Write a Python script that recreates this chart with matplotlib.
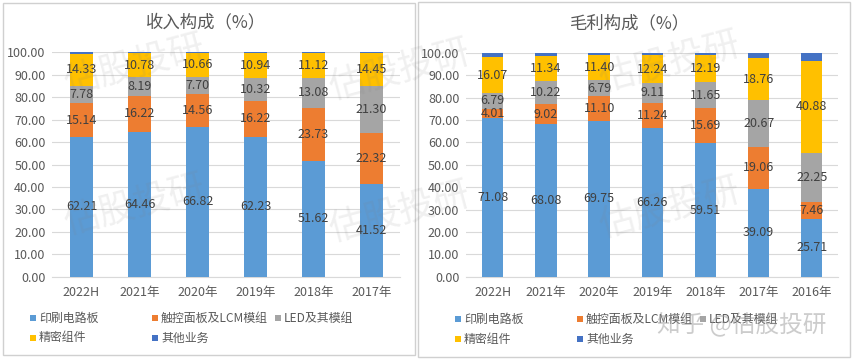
import matplotlib
matplotlib.use("Agg")
import matplotlib.pyplot as plt
from matplotlib.patches import Rectangle
import numpy as np

plt.rcParams['font.family'] = ['Noto Sans CJK SC', 'DejaVu Sans']

# ---------------- data ----------------
series_names = ['印刷电路板', '触控面板及LCM模组', 'LED及其模组', '精密组件', '其他业务']
colors = ['#5B9BD5', '#ED7D31', '#A5A5A5', '#FFC000', '#4472C4']

rev_title = '收入构成（%）'
rev_cats = ['2022H', '2021年', '2020年', '2019年', '2018年', '2017年']
rev_pcb = [62.21, 64.46, 66.82, 62.23, 51.62, 41.52]
rev_touch = [15.14, 16.22, 14.56, 16.22, 23.73, 22.32]
rev_led = [7.78, 8.19, 7.70, 10.32, 13.08, 21.30]
rev_prec = [14.33, 10.78, 10.66, 10.94, 11.12, 14.45]
rev_other = [0.54, 0.35, 0.26, 0.29, 0.45, 0.41]

gp_title = '毛利构成（%）'
gp_cats = ['2022H', '2021年', '2020年', '2019年', '2018年', '2017年', '2016年']
gp_pcb = [71.08, 68.08, 69.75, 66.26, 59.51, 39.09, 25.71]
gp_touch = [4.01, 9.02, 11.10, 11.24, 15.69, 19.06, 7.46]
gp_led = [6.79, 10.22, 6.79, 9.11, 11.65, 20.67, 22.25]
gp_prec = [16.07, 11.34, 11.40, 12.24, 12.19, 18.76, 40.88]
gp_other = [2.05, 1.34, 0.96, 1.15, 0.96, 2.42, 3.70]

y_ticks = [0, 10, 20, 30, 40, 50, 60, 70, 80, 90, 100]

W, H = 854, 360
fig = plt.figure(figsize=(W / 100, H / 100), dpi=100)
fig.patch.set_facecolor('white')

def fx(px):
    return px / W

def fy(py):
    return 1 - py / H

# panel borders
for (x0, y0, x1, y1) in [(3, 3, 415, 355), (418, 2, 850, 357)]:
    fig.patches.append(Rectangle((fx(x0), fy(y1)), fx(x1 - x0), (y1 - y0) / H,
                                 transform=fig.transFigure, fill=False,
                                 edgecolor='#d0d0d0', linewidth=1.0, zorder=0))

grid_c = '#d9d9d9'
txt_c = '#595959'
lab_c = '#404040'

def draw_panel(rect, cats, data, title, title_xy):
    ax = fig.add_axes(rect)
    x = np.arange(len(cats))
    bottom = np.zeros(len(cats))
    for i, (vals, col) in enumerate(zip(data, colors)):
        vals = np.array(vals, dtype=float)
        bars = ax.bar(x, vals, width=0.4, bottom=bottom, color=col, zorder=3,
                      linewidth=0)
        if i < 4:
            ax.bar_label(bars, labels=[f'{v:.2f}' for v in vals],
                         label_type='center', fontsize=9, color=lab_c, zorder=5)
        bottom += vals
    ax.set_xlim(-0.5, len(cats) - 0.5)
    ax.set_ylim(0, 100)
    ax.set_yticks(y_ticks)
    ax.set_yticklabels([f'{v:.2f}' for v in y_ticks])
    ax.set_xticks(x)
    ax.set_xticklabels(cats)
    ax.tick_params(axis='both', length=0, labelsize=9, colors=txt_c)
    ax.tick_params(axis='y', pad=5)
    ax.tick_params(axis='x', pad=7)
    ax.yaxis.grid(True, color=grid_c, linewidth=0.8, zorder=0)
    ax.set_axisbelow(True)
    for s in ['top', 'right', 'left']:
        ax.spines[s].set_visible(False)
    ax.spines['bottom'].set_color(grid_c)
    ax.spines['bottom'].set_linewidth(0.8)
    ax.set_facecolor('none')
    fig.text(fx(title_xy[0]), fy(title_xy[1]), title, ha='center', va='center',
             fontsize=12.5, color=txt_c)
    return ax

# left panel
draw_panel([fx(52.5), fy(276.7), fx(400.5 - 52.5), (276.7 - 52.3) / H],
           rev_cats, [rev_pcb, rev_touch, rev_led, rev_prec, rev_other],
           rev_title, (206, 22))
# right panel
draw_panel([fx(466.2), fy(276.7), fx(838.4 - 466.2), (276.7 - 52.8) / H],
           gp_cats, [gp_pcb, gp_touch, gp_led, gp_prec, gp_other],
           gp_title, (630, 23))

# legends (manual, Excel-style)
def legend(positions):
    for (px, py), name, col in zip(positions, series_names, colors):
        fig.patches.append(Rectangle((fx(px), fy(py + 3)), fx(6), 6 / H,
                                     transform=fig.transFigure, facecolor=col,
                                     edgecolor='none', zorder=2))
        fig.text(fx(px + 9), fy(py), name, ha='left', va='center',
                 fontsize=8.6, color=txt_c)

legend([(30, 318), (152, 318), (275, 318), (30, 338), (152, 338)])
legend([(455, 319), (577, 319), (700, 319), (455, 339), (577, 339)])

# watermarks
wm_c = '#808080'
for (px, py) in [(135, 65), (400, 70), (670, 62), (135, 205), (400, 212),
                 (670, 208)]:
    fig.text(fx(px), fy(py), '估股投研', ha='center', va='center', fontsize=26,
             color=wm_c, alpha=0.12, rotation=15, zorder=10)
fig.text(fx(742), fy(324), '知乎 @估股投研', ha='center', va='center',
         fontsize=17, color='#9a9a9a', alpha=0.5, zorder=11)

fig.savefig('out.png', dpi=100, facecolor='white')
